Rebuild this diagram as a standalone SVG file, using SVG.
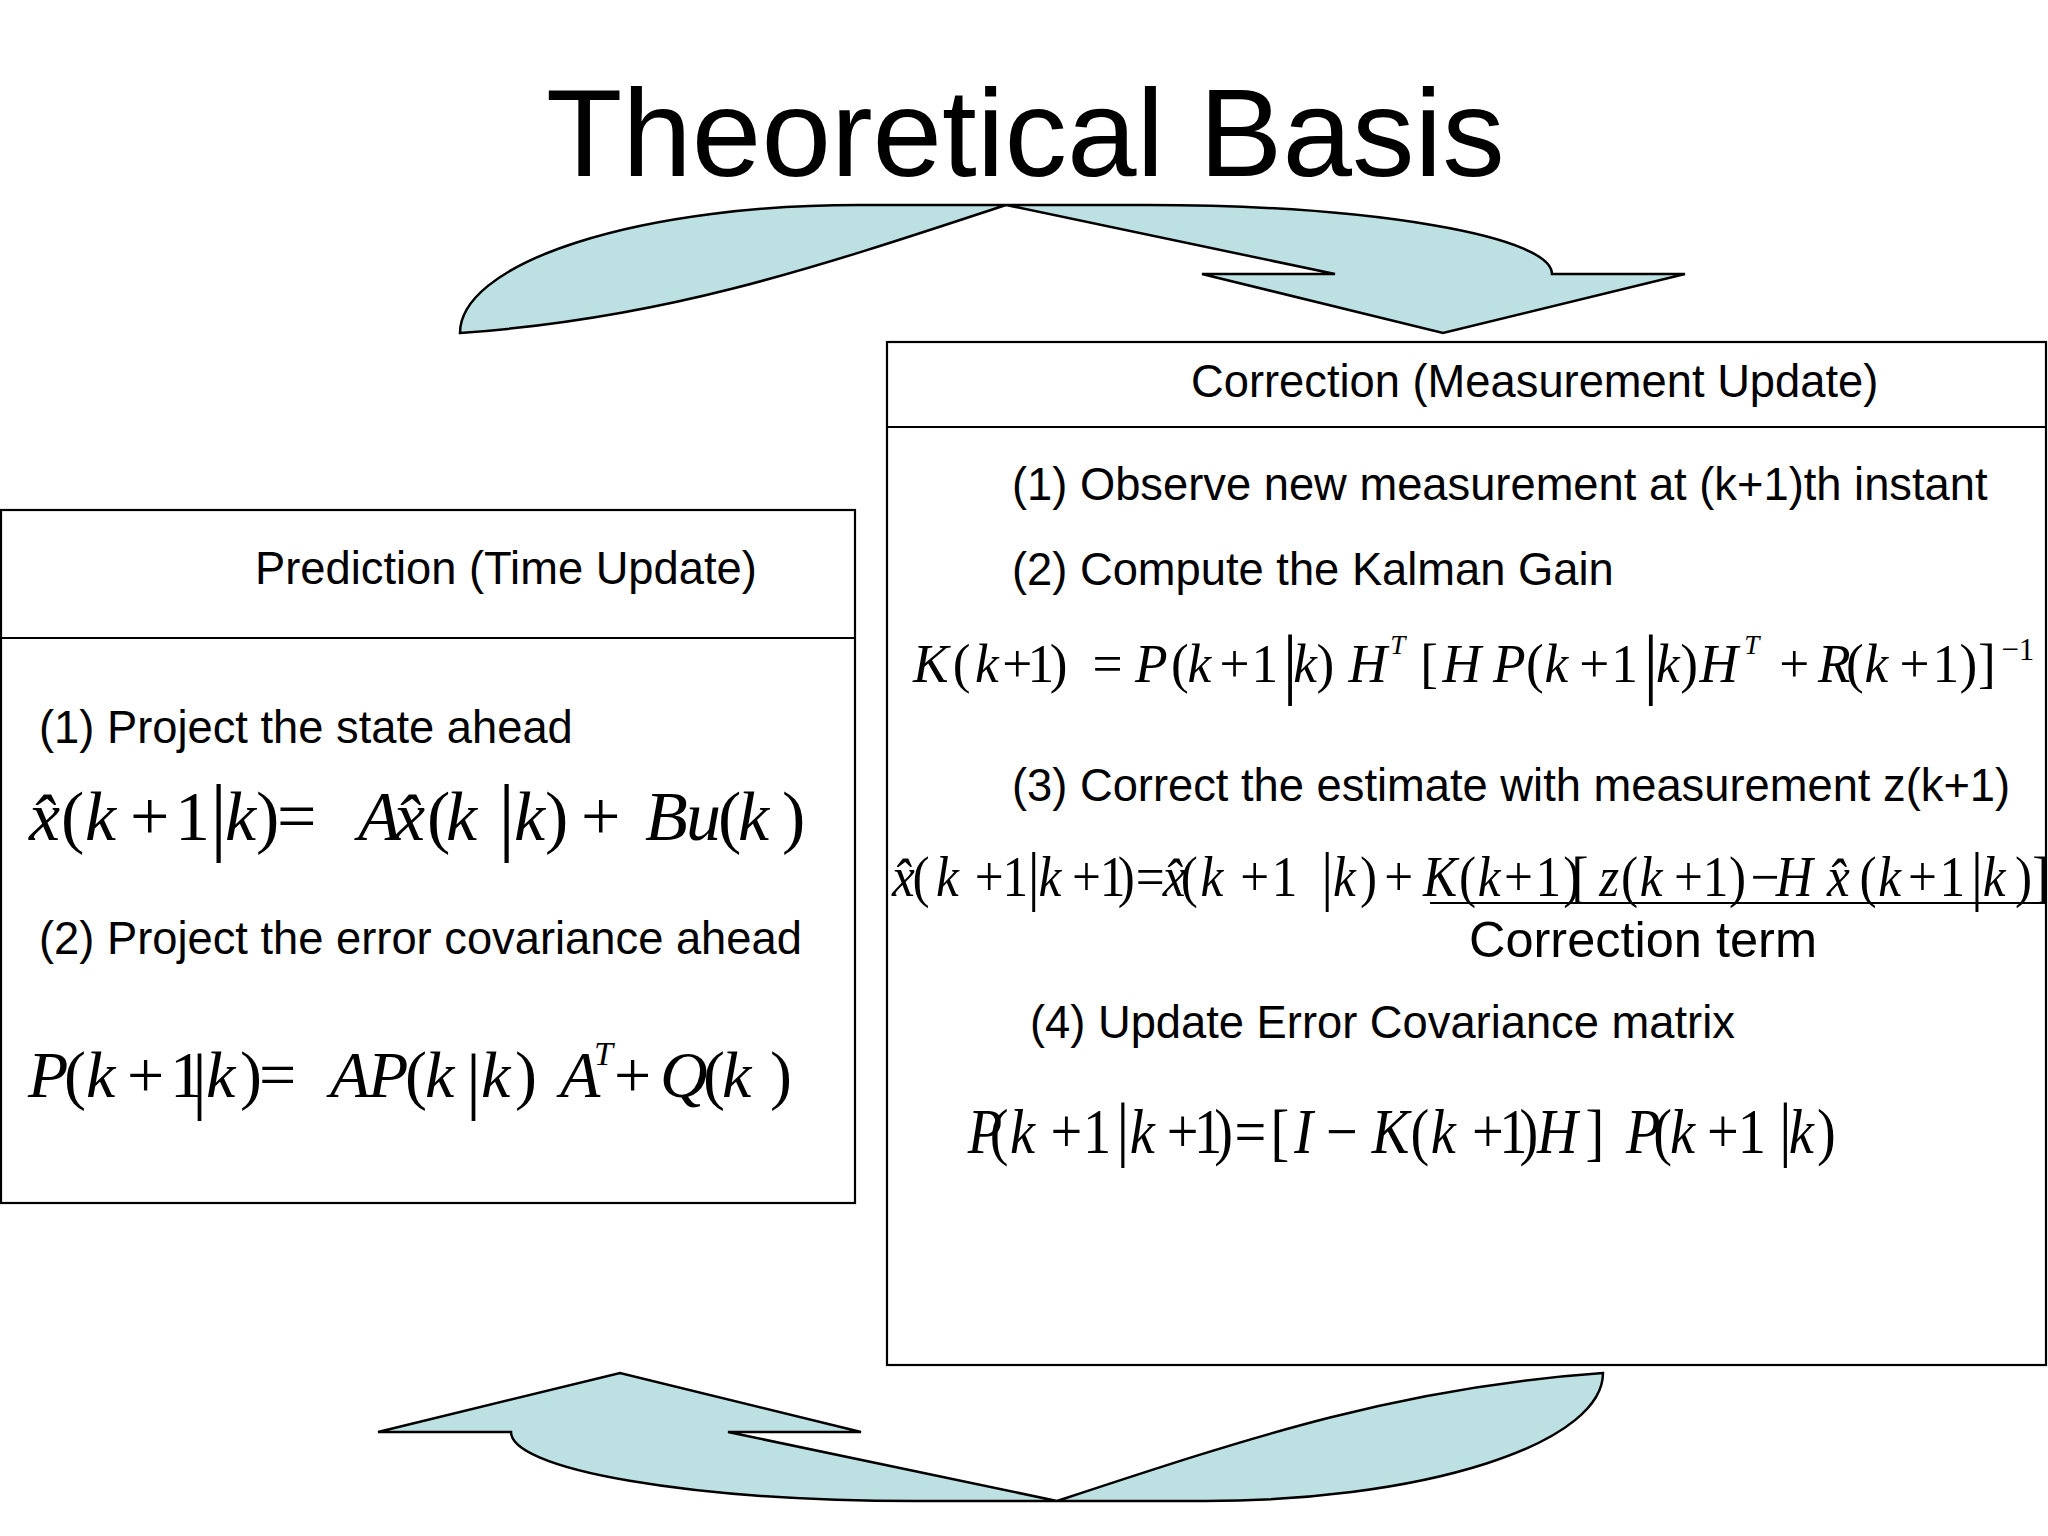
<svg xmlns="http://www.w3.org/2000/svg" width="2048" height="1536" viewBox="0 0 2048 1536">
<defs>
<style>
.lbl{font-family:"Liberation Sans",Arial,sans-serif;font-size:45.3px;fill:#000}
.eq{font-family:"Liberation Serif","Times New Roman",serif;fill:#000}
.v{font-style:italic}
.arrow{fill:#BDE0E3;stroke:#000;stroke-width:2.5;stroke-linejoin:miter}
.box{fill:none;stroke:#000;stroke-width:2.2}
</style>
<path id="curvedArrow" d="M460,333 A398,128 0 0 1 858,205 L1147,205 A405,69 0 0 1 1552,274 L1685,274 L1443,333 L1202,274 L1335,274 L1006,205 C806,271 660,319 460,333 Z"/>
</defs>
<rect width="2048" height="1536" fill="#fff"/>

<g id="title">
<text x="546" y="176" style="font-family:'Liberation Sans',Arial,sans-serif;font-size:125px;fill:#000">Theoretical Basis</text>
</g>

<g id="connectors">
<use href="#curvedArrow" class="arrow"/>
<use href="#curvedArrow" class="arrow" transform="rotate(180 1031.5 853)"/>
</g>

<g id="prediction">
<rect class="box" x="1" y="510" width="854" height="693"/>
<line class="box" x1="1" y1="638" x2="855" y2="638"/>
<text class="lbl" x="255" y="584">Prediction (Time Update)</text>
<text class="lbl" x="39" y="743">(1) Project the state ahead</text>
<text class="eq" font-size="70" y="840"><tspan class="v" x="29">x&#x302;</tspan><tspan x="61">(</tspan><tspan class="v" x="85">k</tspan><tspan x="130">+</tspan><tspan x="175">1</tspan><tspan x="210" y="844" font-size="86">|</tspan><tspan class="v" x="225" y="840">k</tspan><tspan x="256">)</tspan><tspan x="277">=</tspan><tspan class="v" x="358">A</tspan><tspan class="v" x="394">x&#x302;</tspan><tspan x="427">(</tspan><tspan class="v" x="446">k</tspan><tspan x="498" y="844" font-size="86">|</tspan><tspan class="v" x="514" y="840">k</tspan><tspan x="545">)</tspan><tspan x="581">+</tspan><tspan class="v" x="645">B</tspan><tspan class="v" x="686">u</tspan><tspan x="718">(</tspan><tspan class="v" x="738">k</tspan><tspan x="782">)</tspan></text>
<text class="lbl" x="39" y="954">(2) Project the error covariance ahead</text>
<text class="eq" font-size="66" y="1097"><tspan class="v" x="28">P</tspan><tspan x="64">(</tspan><tspan class="v" x="86">k</tspan><tspan x="127">+</tspan><tspan x="170">1</tspan><tspan x="192" y="1105" font-size="75">|</tspan><tspan class="v" x="206" y="1097">k</tspan><tspan x="240">)</tspan><tspan x="259">=</tspan><tspan class="v" x="330">A</tspan><tspan class="v" x="368">P</tspan><tspan x="405">(</tspan><tspan class="v" x="425">k</tspan><tspan x="466" y="1105" font-size="75">|</tspan><tspan class="v" x="481" y="1097">k</tspan><tspan x="515">)</tspan><tspan class="v" x="560">A</tspan><tspan class="v" x="594" y="1065" font-size="34">T</tspan><tspan x="614" y="1097">+</tspan><tspan class="v" x="660">Q</tspan><tspan x="703">(</tspan><tspan class="v" x="722">k</tspan><tspan x="770">)</tspan></text>
</g>

<g id="correction">
<rect class="box" x="887" y="342" width="1159" height="1023"/>
<line class="box" x1="887" y1="427" x2="2046" y2="427"/>
<text class="lbl" x="1191" y="397">Correction (Measurement Update)</text>
<text class="lbl" x="1012" y="500">(1) Observe new measurement at (k+1)th instant</text>
<text class="lbl" x="1012" y="585">(2) Compute the Kalman Gain</text>
<text class="eq" font-size="55" y="682" transform="translate(911 0) scale(0.97 1)"><tspan class="v" x="2">K</tspan><tspan x="43">(</tspan><tspan class="v" x="66">k</tspan><tspan x="94">+</tspan><tspan x="120">1</tspan><tspan x="143">)</tspan><tspan x="187">=</tspan><tspan class="v" x="231">P</tspan><tspan x="268">(</tspan><tspan class="v" x="285">k</tspan><tspan x="318">+</tspan><tspan x="351">1</tspan><tspan x="383" y="689" font-size="78">|</tspan><tspan class="v" x="394" y="682">k</tspan><tspan x="418">)</tspan><tspan class="v" x="451">H</tspan><tspan class="v" x="494" y="654" font-size="28">T</tspan><tspan x="525" y="682">[</tspan><tspan class="v" x="548">H</tspan><tspan class="v" x="600">P</tspan><tspan x="634">(</tspan><tspan class="v" x="653">k</tspan><tspan x="689">+</tspan><tspan x="722">1</tspan><tspan x="755" y="689" font-size="78">|</tspan><tspan class="v" x="768" y="682">k</tspan><tspan x="793">)</tspan><tspan class="v" x="813">H</tspan><tspan class="v" x="859" y="654" font-size="28">T</tspan><tspan x="895" y="682">+</tspan><tspan class="v" x="935">R</tspan><tspan x="964">(</tspan><tspan class="v" x="983">k</tspan><tspan x="1019">+</tspan><tspan x="1053">1</tspan><tspan x="1081">)</tspan><tspan x="1100">]</tspan><tspan x="1124" y="660" font-size="32">−1</tspan></text>
<text class="lbl" x="1012" y="801">(3) Correct the estimate with measurement z(k+1)</text>
<text class="eq" font-size="57" y="896" transform="translate(891 0) scale(0.9 1)"><tspan class="v" x="1">x&#x302;</tspan><tspan x="24">(</tspan><tspan class="v" x="50">k</tspan><tspan x="93">+</tspan><tspan x="124">1</tspan><tspan x="152" y="898" font-size="66">|</tspan><tspan class="v" x="164" y="896">k</tspan><tspan x="201">+</tspan><tspan x="232">1</tspan><tspan x="252">)</tspan><tspan x="272">=</tspan><tspan class="v" x="302">x&#x302;</tspan><tspan x="322">(</tspan><tspan class="v" x="344">k</tspan><tspan x="388">+</tspan><tspan x="423">1</tspan><tspan x="478" y="898" font-size="66">|</tspan><tspan class="v" x="491" y="896">k</tspan><tspan x="521">)</tspan><tspan x="548">+</tspan><tspan class="v" x="591">K</tspan><tspan x="631">(</tspan><tspan class="v" x="652">k</tspan><tspan x="681">+</tspan><tspan x="716">1</tspan><tspan x="747">)</tspan><tspan x="756">[</tspan><tspan class="v" x="787">z</tspan><tspan x="811">(</tspan><tspan class="v" x="832">k</tspan><tspan x="870">+</tspan><tspan x="902">1</tspan><tspan x="931">)</tspan><tspan x="955">−</tspan><tspan class="v" x="983">H</tspan><tspan class="v" x="1040">x&#x302;</tspan><tspan x="1076">(</tspan><tspan class="v" x="1097">k</tspan><tspan x="1130">+</tspan><tspan x="1165">1</tspan><tspan x="1200" y="898" font-size="66">|</tspan><tspan class="v" x="1213" y="896">k</tspan><tspan x="1249">)</tspan><tspan x="1268">]</tspan></text>
<line x1="1430" y1="903" x2="2046" y2="903" stroke="#000" stroke-width="2"/>
<text class="lbl" x="1469" y="957" style="font-size:50.5px">Correction term</text>
<text class="lbl" x="1030" y="1038">(4) Update Error Covariance matrix</text>
<text class="eq" font-size="64" y="1153" transform="translate(966 0) scale(0.88 1)"><tspan class="v" x="2">P</tspan><tspan x="27">(</tspan><tspan class="v" x="50">k</tspan><tspan x="96">+</tspan><tspan x="133">1</tspan><tspan x="171" y="1153" font-size="72">|</tspan><tspan class="v" x="186" y="1153">k</tspan><tspan x="228">+</tspan><tspan x="259">1</tspan><tspan x="282">)</tspan><tspan x="305">=</tspan><tspan x="346">[</tspan><tspan class="v" x="373">I</tspan><tspan x="409">−</tspan><tspan class="v" x="461">K</tspan><tspan x="505">(</tspan><tspan class="v" x="528">k</tspan><tspan x="575">+</tspan><tspan x="606">1</tspan><tspan x="629">)</tspan><tspan class="v" x="649">H</tspan><tspan x="704">]</tspan><tspan class="v" x="750">P</tspan><tspan x="781">(</tspan><tspan class="v" x="800">k</tspan><tspan x="842">+</tspan><tspan x="877">1</tspan><tspan x="924" y="1153" font-size="72">|</tspan><tspan class="v" x="935" y="1153">k</tspan><tspan x="967">)</tspan></text>
</g>
</svg>
